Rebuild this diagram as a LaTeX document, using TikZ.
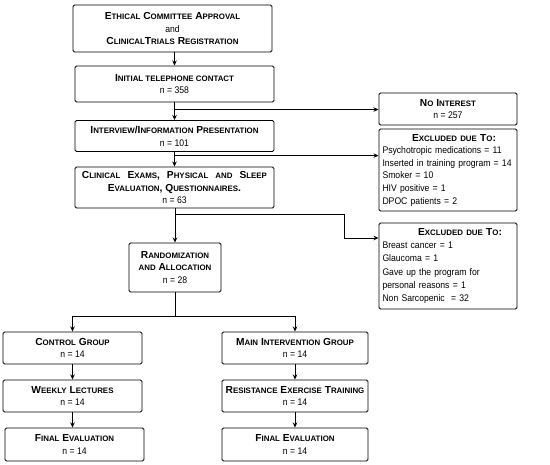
\documentclass[tikz,border=0pt]{standalone}
\usepackage{fontspec}
\setmainfont{Liberation Sans}[FakeStretch=0.9]
\newfontfamily\hdfamily{Liberation Sans}
\usetikzlibrary{arrows.meta,calc}
\newcommand\smc[1]{{\fontsize{7.9}{9}\selectfont #1}}
\newcommand\hd[1]{{\hdfamily\bfseries\fontsize{10.2}{12.8}\selectfont #1}}
\newcommand\gap{\hspace{7pt}}
\begin{document}
\begin{tikzpicture}[x=1pt,y=-1pt,
  box/.style={draw,line width=0.95pt,rounded corners=1.5pt,inner sep=0pt,align=center,
    font=\fontsize{9.6}{12.8}\selectfont},
  arr/.style={line width=0.95pt,-{Stealth[length=5pt,width=4.5pt]}},
  ln/.style={line width=0.95pt}]
\useasboundingbox (0,0) rectangle (550,465);
\node[box,minimum width=199pt,minimum height=47pt] (ethic) at (172.5,28.5)
  {\hd{E\smc{THICAL} C\smc{OMMITTEE} A\smc{PPROVAL}}\\and\\\hd{C\smc{LINICAL}T\smc{RIALS} R\smc{EGISTRATION}}};
\node[box,minimum width=199pt,minimum height=36pt] (tel) at (174.5,84)
  {\hd{I\smc{NITIAL TELEPHONE CONTACT}}\\n = 358};
\node[box,minimum width=138pt,minimum height=32pt] (noint) at (448,109)
  {\hd{N\smc{O} I\smc{NTEREST}}\\n = 257};
\node[box,minimum width=199pt,minimum height=31pt] (inter) at (174.5,136)
  {\hd{I\smc{NTERVIEW}/I\smc{NFORMATION} P\smc{RESENTATION}}\\n = 101};
\node[box,minimum width=138pt,minimum height=82pt,text width=131pt,align=left,
  font=\fontsize{9.6}{12.6}\selectfont] (exc1) at (448,170)
  {\makebox[\linewidth][c]{\hspace*{12pt}\hd{E\smc{XCLUDED DUE} T\smc{O}:}}\\
   Psychotropic medications = 11\\Inserted in training program = 14\\Smoker = 10\\HIV positive = 1\\DPOC patients = 2};
\node[box,minimum width=199pt,minimum height=41pt] (clin) at (174.5,187.5)
  {\hd{C\smc{LINICAL}\gap E\smc{XAMS},\gap P\smc{HYSICAL}\gap\smc{AND}\gap S\smc{LEEP}}\\\hd{E\smc{VALUATION}, Q\smc{UESTIONNAIRES}.}\\n = 63};
\node[box,minimum width=138pt,minimum height=86pt,text width=131pt,align=left,
  font=\fontsize{9.6}{13.2}\selectfont] (exc2) at (448,266)
  {\makebox[\linewidth][c]{\hspace*{24pt}\hd{E\smc{XCLUDED DUE} T\smc{O}:}}\\
   Breast cancer = 1\\Glaucoma = 1\\Gave up the program for\\personal reasons = 1\\Non Sarcopenic \ = 32};
\node[box,minimum width=92pt,minimum height=49pt] (rand) at (175,267.5)
  {\hd{R\smc{ANDOMIZATION}}\\\hd{\smc{AND} A\smc{LLOCATION}}\\n = 28};
\node[box,minimum width=139pt,minimum height=32pt] (ctrl) at (72.5,348)
  {\hd{C\smc{ONTROL} G\smc{ROUP}}\\n = 14};
\node[box,minimum width=146pt,minimum height=32pt] (main) at (295,348)
  {\hd{M\smc{AIN} I\smc{NTERVENTION} G\smc{ROUP}}\\n = 14};
\node[box,minimum width=139pt,minimum height=32pt] (week) at (72.5,396)
  {\hd{W\smc{EEKLY} L\smc{ECTURES}}\\n = 14};
\node[box,minimum width=146pt,minimum height=32pt] (resist) at (295,396)
  {\hd{R\smc{ESISTANCE} E\smc{XERCISE} T\smc{RAINING}}\\n = 14};
\node[box,minimum width=139pt,minimum height=33pt] (fin1) at (74.5,444.5)
  {\hd{F\smc{INAL} E\smc{VALUATION}}\\n = 14};
\node[box,minimum width=146pt,minimum height=33pt] (fin2) at (295,444.5)
  {\hd{F\smc{INAL} E\smc{VALUATION}}\\n = 14};
% connectors
\draw[arr] (ethic.south -| tel.north) -- (tel.north);
\draw[arr] (tel.south) -- (inter.north);
\coordinate (b1) at ($(tel.south)!0.4!(inter.north)$);
\draw[arr] (b1) -- (b1 -| noint.west);
\draw[arr] (inter.south) -- (clin.north);
\coordinate (b2) at ($(inter.south)!0.25!(clin.north)$);
\draw[arr] (b2) -- (b2 -| exc1.west);
\draw[arr] (clin.south -| rand.north) -- (rand.north);
\coordinate (b3) at ($(clin.south -| rand.north)+(0,6)$);
\coordinate (e2) at ([yshift=28pt]exc2.west);
\draw[arr] (b3) -- (344,0 |- b3) |- (e2);
\coordinate (split) at ($(rand.south)+(0,24)$);
\draw[ln] (rand.south) -- (split);
\draw[ln] (split -| ctrl.north) -- (split -| main.north);
\draw[arr] (split -| ctrl.north) -- (ctrl.north);
\draw[arr] (split -| main.north) -- (main.north);
\draw[arr] (ctrl.south) -- (week.north);
\draw[arr] (week.south) -- (week.south |- fin1.north);
\draw[arr] (main.south) -- (resist.north);
\draw[arr] (resist.south) -- (fin2.north);
\end{tikzpicture}
\end{document}
